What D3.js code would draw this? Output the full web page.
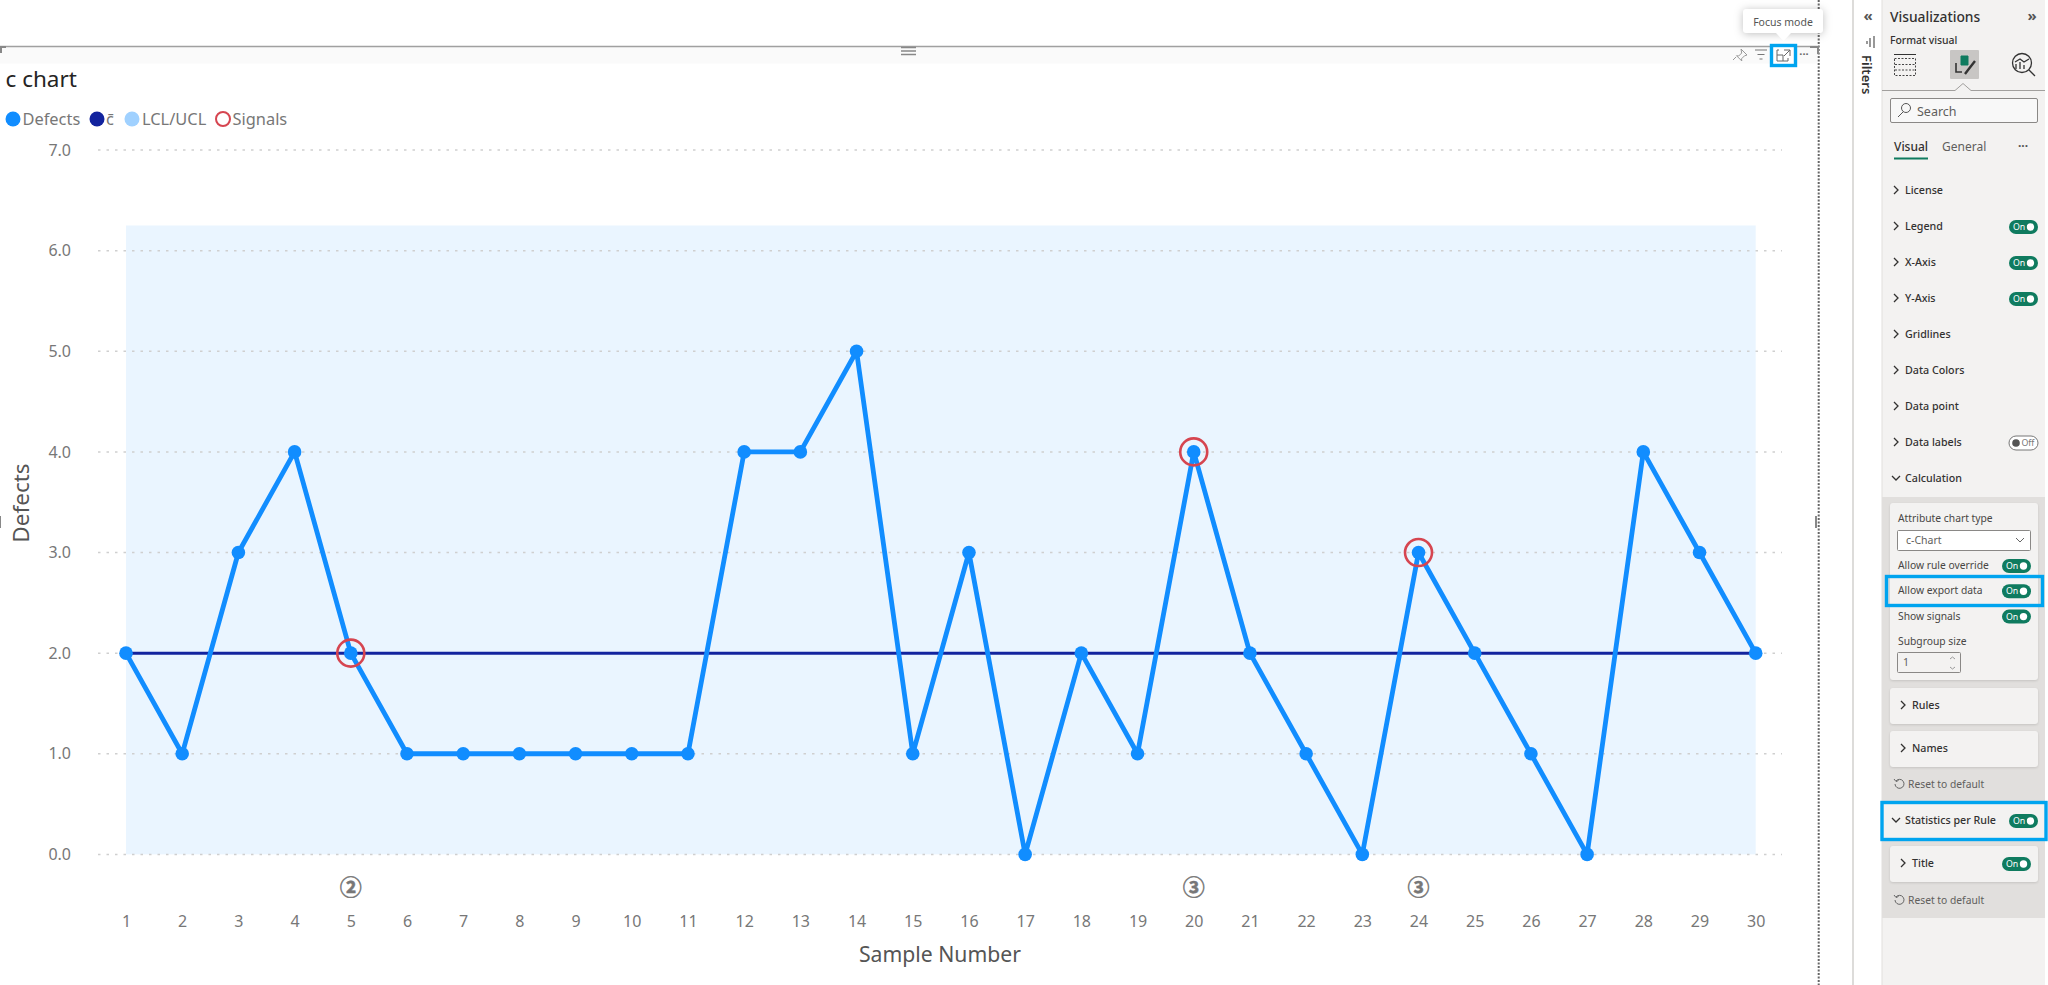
<!DOCTYPE html>
<html><head><meta charset="utf-8">
<script src="https://cdn.jsdelivr.net/npm/d3@7/dist/d3.min.js"></script>
<style>
html,body{margin:0;padding:0;background:#fff;overflow:hidden}
svg{display:block}
text{font-family:"Noto Sans","Open Sans",sans-serif}
</style></head><body>
<script>
// ---- data ----
const samples = d3.range(1,31);
const defects = [2,1,3,4,2,1,1,1,1,1,1,4,4,5,1,3,0,2,1,4,2,1,0,3,2,1,0,4,3,2];
const centerLine = 2;
const lcl = 0;
const ucl = 6.25;
const signalSamples = [5,20,24];
const signalRules = ["②","③","③"];
const yTicks = [0,1,2,3,4,5,6,7];
const legendLabels = ["Defects","c̄","LCL/UCL","Signals"];
const chartTitle = "c chart";
const xTitle = "Sample Number";
const yTitle = "Defects";

const W=2048,H=985;
const svg=d3.select("body").append("svg").attr("width",W).attr("height",H);
const x=d3.scaleLinear().domain([1,30]).range([126,1755.7]);
const y=d3.scaleLinear().domain([0,7]).range([854.4,150]);
const grey="#777777";

// visual frame
svg.append("rect").attr("x",0).attr("y",47).attr("width",1817).attr("height",16.5).attr("fill","#fafafa");
svg.append("line").attr("x1",0).attr("x2",1817).attr("y1",46.5).attr("y2",46.5).attr("stroke","#a0a0a0").attr("stroke-width",1.5);
svg.append("path").attr("d","M0 47H6M1 47V53").attr("stroke","#888").attr("stroke-width",2).attr("fill","none");
svg.append("path").attr("d","M901 47.5H916M901 51H916M901 54.5H916").attr("stroke","#888").attr("stroke-width",1.5);
svg.append("line").attr("x1",1818.7).attr("x2",1818.7).attr("y1",0).attr("y2",H).attr("stroke","#666").attr("stroke-width",2).attr("stroke-dasharray","2 1.5");
svg.append("path").attr("d","M1810 47H1818V54").attr("stroke","#888").attr("stroke-width",2).attr("fill","none");
svg.append("path").attr("d","M1816 516V528").attr("stroke","#888").attr("stroke-width",2);
svg.append("path").attr("d","M0 516V528").attr("stroke","#888").attr("stroke-width",2);

// title + legend
svg.append("text").attr("x",5.5).attr("y",86.5).attr("font-size",22.5).attr("fill","#252423").text(chartTitle);
const legendColors=["#118dff","#12239e","#a0d1ff","none"];
const legendDotX=[13,97,132,223];
const legendTextX=[22.5,106,142,232.5];
legendLabels.forEach((t,i)=>{
  const c=svg.append("circle").attr("cx",legendDotX[i]).attr("cy",119).attr("r",i==3?7:7.5).attr("fill",legendColors[i]);
  if(i==3)c.attr("stroke","#d64550").attr("stroke-width",2);
  svg.append("text").attr("x",legendTextX[i]).attr("y",125).attr("font-size",16.4).attr("fill",grey).text(t);
});

// control band
svg.append("rect").attr("x",x(1)).attr("width",x(30)-x(1)).attr("y",y(ucl)).attr("height",y(lcl)-y(ucl)).attr("fill","#eaf5ff");

// gridlines
svg.append("g").selectAll("line").data(yTicks).join("line")
  .attr("x1",98).attr("x2",1782).attr("y1",d=>y(d)).attr("y2",d=>y(d))
  .attr("stroke","#cfcfcf").attr("stroke-width",1.5).attr("stroke-dasharray","2.5 6");

// axes
const yAxis=svg.append("g").attr("transform","translate(71,0)")
  .call(d3.axisLeft(y).tickValues(yTicks).tickFormat(d3.format(".1f")).tickSize(0).tickPadding(0));
const xAxis=svg.append("g").attr("transform","translate(0,916)")
  .call(d3.axisBottom(x).tickValues(samples).tickFormat(d3.format("d")).tickSize(0).tickPadding(0));
[yAxis,xAxis].forEach(a=>{a.select(".domain").remove();
  a.selectAll("text").attr("font-size",16).attr("fill",grey).attr("font-family",'"Noto Sans"');});
svg.append("text").attr("x",940).attr("y",962).attr("text-anchor","middle").attr("font-size",21.2).attr("fill","#555").text(xTitle);
svg.append("text").attr("transform","translate(29,503) rotate(-90)").attr("text-anchor","middle").attr("font-size",22.5).attr("fill","#555").text(yTitle);

// center line
svg.append("line").attr("x1",x(1)).attr("x2",x(30)).attr("y1",y(centerLine)).attr("y2",y(centerLine)).attr("stroke","#12239e").attr("stroke-width",3);

// series
const line=d3.line().x((d,i)=>x(samples[i])).y(d=>y(d));
svg.append("path").attr("d",line(defects)).attr("fill","none").attr("stroke","#118dff").attr("stroke-width",4.8).attr("stroke-linejoin","round");
svg.append("g").selectAll("circle").data(defects).join("circle")
  .attr("cx",(d,i)=>x(samples[i])).attr("cy",d=>y(d)).attr("r",6.8).attr("fill","#118dff");

// signals
svg.append("g").selectAll("circle").data(signalSamples).join("circle")
  .attr("cx",d=>x(d)).attr("cy",d=>y(defects[d-1])).attr("r",13.5)
  .attr("fill","none").attr("stroke","#d64550").attr("stroke-width",2.6);
svg.append("g").selectAll("text").data(signalSamples).join("text")
  .attr("x",d=>x(d)).attr("y",895).attr("text-anchor","middle").attr("font-size",22)
  .attr("font-weight",700).attr("fill",grey).attr("stroke",grey).attr("stroke-width",0.5)
  .style("font-family",'"Noto Sans CJK SC","DejaVu Sans"')
  .text((d,i)=>signalRules[i]);

// ---- Power BI chrome ----
const paneBg="#f3f2f1", ink="#323130", green="#0f7b5f", hi="#00a4ef";
function label(t,px,py,size,fill,weight,anchor){
  return svg.append("text").attr("x",px).attr("y",py-1).attr("font-size",size).attr("fill",fill||ink)
    .attr("font-weight",weight||400).attr("text-anchor",anchor||"start").attr("dominant-baseline","central").text(t);
}
function box(px,py,w,h,fill,stroke,r){
  return svg.append("rect").attr("x",px).attr("y",py).attr("width",w).attr("height",h).attr("rx",r||0)
    .attr("fill",fill).attr("stroke",stroke||"none");
}
function chev(px,py,open){
  svg.append("path").attr("d",open?`M${px-4} ${py-3}l4 4l4 -4`:`M${px-2} ${py-5}l4 4l-4 4`)
    .attr("fill","none").attr("stroke",ink).attr("stroke-width",1.3);
}
function toggle(px,py,on){
  if(on){
    box(px,py-7,29,14,green,"none",7);
    label("On",px+4,py+1,8.8,"#fff");
    svg.append("circle").attr("cx",px+21.5).attr("cy",py).attr("r",3.7).attr("fill","#fff");
  }else{
    box(px,py-7,29,14,"#fff","#777",7);
    svg.append("circle").attr("cx",px+7).attr("cy",py).attr("r",3.8).attr("fill","#555");
    label("Off",px+12.5,py+1,8.8,"#777");
  }
}

// tooltip and visual header icons
box(1743,9,80,24,"#fff","none",3).style("filter","drop-shadow(0 1px 4px rgba(0,0,0,.25))");
svg.append("path").attr("d","M1776 33l7.5 8l7.5 -8z").attr("fill","#fff");
label("Focus mode",1783,22.5,10.5,"#555","400","middle");
svg.append("path").attr("d","M1741 49l6 6l-2.5 .8l-3 3l.3 2.2l-5.3 -5.3l2.2 .3l3 -3zM1736 57l-3 3").attr("fill","none").attr("stroke","#999").attr("stroke-width",1);
svg.append("path").attr("d","M1755 50H1767M1757.5 54.5H1764.5M1759.5 59H1762.5").attr("stroke","#777").attr("stroke-width",1.2);
box(1771.5,45.5,24,20,"#fff",hi).attr("stroke-width",3.4);
svg.append("path").attr("d","M1779 50h-2v11h11v-3M1777 55h6v6M1784 50h6v6M1790 50l-6 6").attr("fill","none").attr("stroke","#666").attr("stroke-width",1);
label("···",1804,54,11,"#666",700,"middle");

// filters strip
svg.append("line").attr("x1",1853).attr("x2",1853).attr("y1",0).attr("y2",H).attr("stroke","#d2d0ce").attr("stroke-width",1.5);
svg.append("rect").attr("x",1882).attr("y",0).attr("width",163).attr("height",H).attr("fill",paneBg);
svg.append("line").attr("x1",1882).attr("x2",1882).attr("y1",0).attr("y2",H).attr("stroke","#e1dfdd");
label("«",1868,16,15,"#555",700,"middle");
svg.append("path").attr("d","M1867 41v3M1870 38v9M1874 36v12").attr("stroke","#555").attr("stroke-width",1.2);
svg.append("text").attr("transform","translate(1862,55) rotate(90)").attr("font-size",13).attr("font-weight",600).attr("fill",ink).text("Filters");

// pane header
label("Visualizations",1890,17,13.8,ink,500);
label("»",2032,16,15,"#555",700,"middle");
label("Format visual",1890,41,10.4,ink,500);
box(1950,50,29,29,"#c8c6c4","none",1);
svg.append("path").attr("d","M1894 54.5H1916").attr("stroke","#333").attr("stroke-width",1);
svg.append("rect").attr("x",1894.5).attr("y",58.5).attr("width",21).attr("height",17).attr("fill","none").attr("stroke","#444").attr("stroke-dasharray","2 1.5");
svg.append("path").attr("d","M1895 64.5H1915M1895 70H1915").attr("stroke","#444").attr("stroke-dasharray","2 1.5");
svg.append("path").attr("d","M1961 56h7v9h-7z").attr("fill",green).attr("stroke",green);
svg.append("path").attr("d","M1956 63v9h6").attr("fill","none").attr("stroke","#333").attr("stroke-width",1.6);
svg.append("path").attr("d","M1975 61l-7 9l-3 4").attr("fill","none").attr("stroke","#333").attr("stroke-width",2.4);
svg.append("circle").attr("cx",2022).attr("cy",63).attr("r",9.5).attr("fill","none").attr("stroke","#333").attr("stroke-width",1.3);
svg.append("path").attr("d","M2029 70l6 6M2016 64v5M2020 62v7M2024 65v4M2015 62l5 -3l4 3l5 -3").attr("fill","none").attr("stroke","#333").attr("stroke-width",1.3);
svg.append("path").attr("d","M1882 90.5H1955l8 -7l8 7H2045").attr("fill","none").attr("stroke","#a19f9d");
box(1890.5,98.5,147,24,"#f8f8f8","#8a8886",1.5);
svg.append("circle").attr("cx",1906).attr("cy",108).attr("r",4.5).attr("fill","none").attr("stroke","#555");
svg.append("path").attr("d","M1903 112l-5 5").attr("stroke","#555");
label("Search",1917,112,12.5,"#605e5c");
label("Visual",1894,147,12,ink,500);
label("General",1942,147,12,"#605e5c");
label("···",2023,146,12,"#555",700,"middle");
svg.append("rect").attr("x",1894).attr("y",157.5).attr("width",34).attr("height",2).attr("fill",green);

// expandable sections
const sectionNames=["License","Legend","X-Axis","Y-Axis","Gridlines","Data Colors","Data point","Data labels"];
const sectionToggles=[null,true,true,true,null,null,null,false];
sectionNames.forEach((t,i)=>{
  const ry=191+i*36;
  chev(1896,ry,false);
  label(t,1905,ry,10.7,ink,500);
  if(sectionToggles[i]!==null)toggle(2009,ry,sectionToggles[i]);
});
chev(1896,479,true);
label("Calculation",1905,479,10.7,ink,500);

// calculation block
svg.append("rect").attr("x",1882).attr("y",497).attr("width",163).attr("height",421).attr("fill","#e1dfdd");
const card=(py,h)=>box(1890,py,148,h,paneBg,"none",3).style("filter","drop-shadow(0 1px 1px rgba(0,0,0,.12))");
card(503,177);
label("Attribute chart type",1898,519,10.3,"#484644");
box(1897.5,530.5,133,20,"#fff","#8a8886",1);
label("c-Chart",1906,541,10.5,"#605e5c");
svg.append("path").attr("d","M2016 538l4 4l4 -4").attr("fill","none").attr("stroke","#666");
const calcNames=["Allow rule override","Allow export data","Show signals"];
box(1886.5,576.5,156,29,"none",hi).attr("stroke-width",3.4);
calcNames.forEach((t,i)=>{const ry=566+i*25.3;label(t,1898,ry,10.3,"#484644");toggle(2002,ry,true);});
label("Subgroup size",1898,642,10.3,"#484644");
box(1897.5,652.5,63,20,paneBg,"#8a8886",1);
label("1",1903,663,10.5,"#605e5c");
svg.append("path").attr("d","M1950 659l2.5 -2l2.5 2M1950 667l2.5 2l2.5 -2").attr("fill","none").attr("stroke","#999");

const subNames=["Rules","Names"];
[688,731].forEach((py,i)=>{card(py,36);chev(1903,py+18,false);label(subNames[i],1912,py+18,10.7,ink,500);});
const resetLabel="Reset to default";
function reset(ry){
  svg.append("path").attr("d",`M1896 ${ry-4}a4.5 4.5 0 1 1 -1 3M1894 ${ry-6}l2 2.5l2.5 -1`).attr("fill","none").attr("stroke","#666");
  label(resetLabel,1908,ry,10.3,"#605e5c");
}
reset(785);
box(1882,802.5,164,37,paneBg,hi).attr("stroke-width",3.4);
chev(1896,821,true);
label("Statistics per Rule",1905,821,10.7,ink,500);
toggle(2009,821,true);
card(846,36);chev(1903,864,false);label("Title",1912,864,10.7,ink,500);toggle(2002,864,true);
reset(901);
</script>
</body></html>
